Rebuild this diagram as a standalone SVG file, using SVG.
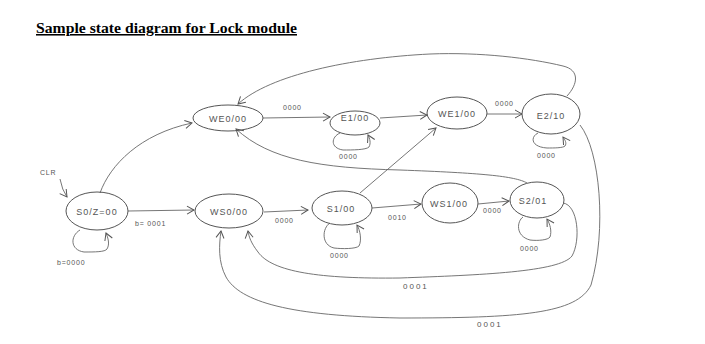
<svg xmlns="http://www.w3.org/2000/svg" width="705" height="344" viewBox="0 0 705 344">
<defs>
<marker id="arr" viewBox="-8 -5 10 10" refX="0" refY="0" markerWidth="10" markerHeight="10" markerUnits="userSpaceOnUse" orient="auto">
<path d="M-7,-4 L0,0 L-7,4" fill="none" stroke="#555" stroke-width="1"/>
</marker>
<style>
.n{fill:none;stroke:#555;stroke-width:1}
.e{fill:none;stroke:#666;stroke-width:0.9}
.t{font-family:"Liberation Sans","DejaVu Sans",sans-serif;font-size:9px;fill:#555;text-anchor:middle;letter-spacing:1px}
.l{font-family:"Liberation Sans","DejaVu Sans",sans-serif;font-size:7px;fill:#555;letter-spacing:0.8px}
.title{font-family:"Liberation Serif","Times New Roman",serif;font-size:15.5px;font-weight:bold;fill:#000;text-decoration:underline}
</style>
</defs>
<rect width="705" height="344" fill="#fff"/>
<text class="title" x="36" y="33" textLength="261" lengthAdjust="spacingAndGlyphs">Sample state diagram for Lock module</text>

<g id="connectors">
<path class="e" d="M60,179 Q62,190 67,197" marker-end="url(#arr)"/>
<path class="e" d="M100,193 C110,165 140,134 192,123" marker-end="url(#arr)"/>
<path class="e" d="M263,118 L330,117" marker-end="url(#arr)"/>
<path class="e" d="M380,118 L427,115" marker-end="url(#arr)"/>
<path class="e" d="M487,114 L522,114" marker-end="url(#arr)"/>
<path class="e" d="M567,96 C578,84 580,70 563,66 C530,58 480,52 430,54 C350,58 270,75 238,104" marker-end="url(#arr)"/>
<path class="e" d="M527,183 C515,176 480,173 400,170 C320,168 270,160 236,129" marker-end="url(#arr)"/>
<path class="e" d="M128,211 L194,210" marker-end="url(#arr)"/>
<path class="e" d="M264,212 L308,210" marker-end="url(#arr)"/>
<path class="e" d="M360,193 L436,128" marker-end="url(#arr)"/>
<path class="e" d="M372,208 L421,204" marker-end="url(#arr)"/>
<path class="e" d="M478,204 L509,201" marker-end="url(#arr)"/>
<path class="e" d="M563,203 C578,205 581,240 572,256 C560,272 480,275 400,278 C320,279 272,272 258,252 C251,243 249,237 248,231" marker-end="url(#arr)"/>
<path class="e" d="M580,125 C600,150 607,230 591,285 C577,314 520,318 400,318 C290,316 240,302 226,277 C218,262 219,245 221,231" marker-end="url(#arr)"/>
<path class="e" d="M80,230 C70,236 70,250 84,252 C95,252 105,252 107,249 C110,244 108,238 106,233" marker-end="url(#arr)"/>
<path class="e" d="M340,133 C331,137 330,148 343,150 C352,150 366,150 369,147 C371,143 370,139 368,135" marker-end="url(#arr)"/>
<path class="e" d="M538,133 C530,137 531,147 547,148 C554,148 563,148 565,146 C567,143 565,140 563,137" marker-end="url(#arr)"/>
<path class="e" d="M330,223 C322,228 321,245 334,248 C342,249 356,249 359,246 C362,240 360,230 357,225" marker-end="url(#arr)"/>
<path class="e" d="M523,217 C517,221 515,236 530,240 C538,241 548,240 550,237 C552,231 550,224 547,219" marker-end="url(#arr)"/>
</g>

<g id="labels">
<text class="l" x="40" y="175">CLR</text>
<text class="l" x="57" y="265">b=0000</text>
<text class="l" x="135" y="226">b= 0001</text>
<text class="l" x="283" y="110">0000</text>
<text class="l" x="339" y="159">0000</text>
<text class="l" x="495" y="106">0000</text>
<text class="l" x="537" y="158">0000</text>
<text class="l" x="275" y="223">0000</text>
<text class="l" x="330" y="258">0000</text>
<text class="l" x="388" y="220">0010</text>
<text class="l" x="483" y="213">0000</text>
<text class="l" x="520" y="251">0000</text>
<text class="l" x="403" y="289" style="font-size:8px;letter-spacing:2px">0001</text>
<text class="l" x="477" y="327" style="font-size:8px;letter-spacing:2px">0001</text>
</g>

<g id="S0"><ellipse class="n" cx="97" cy="211" rx="31" ry="19"/><text class="t" x="97" y="215">S0/Z=00</text></g>
<g id="WE0"><ellipse class="n" cx="228" cy="118" rx="35" ry="13"/><text class="t" x="228" y="122">WE0/00</text></g>
<g id="E1"><ellipse class="n" cx="355" cy="123" rx="25" ry="12"/><text class="t" x="355" y="121">E1/00</text></g>
<g id="WE1"><ellipse class="n" cx="457" cy="113" rx="30" ry="16"/><text class="t" x="457" y="117">WE1/00</text></g>
<g id="E2"><ellipse class="n" cx="551" cy="114" rx="29" ry="20"/><text class="t" x="551" y="119">E2/10</text></g>
<g id="WS0"><ellipse class="n" cx="229" cy="211" rx="34" ry="17"/><text class="t" x="229" y="215">WS0/00</text></g>
<g id="S1"><ellipse class="n" cx="342" cy="208" rx="30" ry="17"/><text class="t" x="341" y="212">S1/00</text></g>
<g id="WS1"><ellipse class="n" cx="450" cy="203" rx="28" ry="20"/><text class="t" x="449" y="207">WS1/00</text></g>
<g id="S2"><ellipse class="n" cx="537" cy="200" rx="27" ry="18"/><text class="t" x="533" y="204">S2/01</text></g>
</svg>
